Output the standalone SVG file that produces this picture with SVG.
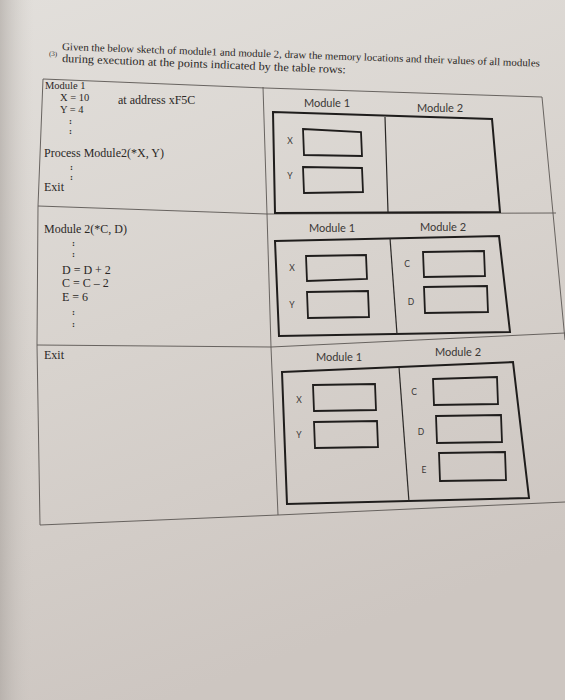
<svg xmlns="http://www.w3.org/2000/svg" width="565" height="700" viewBox="0 0 565 700">
<defs>
<linearGradient id="paper" x1="0" y1="0" x2="0.3" y2="1">
<stop offset="0" stop-color="#e2dfdb"/>
<stop offset="0.5" stop-color="#d8d3ce"/>
<stop offset="1" stop-color="#cdc6c1"/>
</linearGradient>
<linearGradient id="shade" x1="0" y1="0" x2="1" y2="0">
<stop offset="0" stop-color="#a9a39e" stop-opacity="0.6"/>
<stop offset="0.06" stop-color="#d0cbc6" stop-opacity="0"/>
</linearGradient>
<style>
.grid{fill:none;stroke:#5a5652;stroke-width:0.9}
.box{fill:none;stroke:#1f1d1c;stroke-width:2}
.div{fill:none;stroke:#2a2826;stroke-width:1.2}
.cell{fill:none;stroke:#1f1d1c;stroke-width:1.8}
.serif{font-family:"Liberation Serif","DejaVu Serif",serif;fill:#2b2826}
.sans{font-family:Lato,"Liberation Sans",sans-serif;fill:#3a3735}
.hdr{font-size:11px}
.lab{font-size:8.5px}
.code{font-size:12px}
.sm{font-size:10.5px}
.dot{font-size:9px;font-weight:bold}
</style>
</defs>
<rect width="565" height="700" fill="url(#paper)"/>
<rect width="565" height="700" fill="url(#shade)"/>

<g id="title" class="serif">
<text x="49" y="56" font-size="7" transform="rotate(2 49 56)">(3)</text>
<text x="62" y="50" font-size="10.5" transform="rotate(2 62 50)" textLength="478" lengthAdjust="spacingAndGlyphs">Given the below sketch of module1 and module 2, draw the memory locations and their values of all modules</text>
<text x="62" y="62" font-size="11.5" transform="rotate(2.3 62 62)" textLength="284" lengthAdjust="spacingAndGlyphs">during execution at the points indicated by the table rows:</text>
</g>

<g id="table">
<path class="grid" d="M43,79 L265,88 L542,97 L565,340"/>
<path class="grid" d="M43,79 L38,206 L37,345 L40,525"/>
<path class="grid" d="M38,206 L267,214 L556,213"/>
<path class="grid" d="M37,345 L271,347 L565,333"/>
<path class="grid" d="M40,525 L278,515 L565,502"/>
<path class="grid" d="M263,87 L267,214 L271,347 L278,515"/>
</g>

<g id="code1" class="serif code">
<text class="sm" x="45" y="89">Module 1</text>
<text class="sm" x="60" y="101">X = 10</text>
<text x="118" y="104">at address xF5C</text>
<text class="sm" x="60" y="113">Y = 4</text>
<text class="dot" x="69" y="124">:</text>
<text class="dot" x="69" y="134">:</text>
<text x="44" y="157">Process Module2(*X, Y)</text>
<text class="dot" x="70" y="170">:</text>
<text class="dot" x="70" y="180">:</text>
<text x="44" y="191">Exit</text>
</g>

<g id="code2" class="serif code">
<text x="44" y="233">Module 2(*C, D)</text>
<text class="dot" x="72" y="246">:</text>
<text class="dot" x="72" y="257">:</text>
<text x="62" y="274">D = D + 2</text>
<text x="62" y="287">C = C – 2</text>
<text x="62" y="301">E = 6</text>
<text class="dot" x="72" y="315">:</text>
<text class="dot" x="72" y="327">:</text>
<text x="44" y="359">Exit</text>
</g>

<g id="panel1">
<text class="sans hdr" x="327" y="107" text-anchor="middle">Module 1</text>
<text class="sans hdr" x="440" y="112" text-anchor="middle">Module 2</text>
<polygon class="box" points="273,112 492,119 500,212 275,213"/>
<path class="div" d="M385,117 L388,212"/>
<text class="sans lab" x="290" y="144" text-anchor="middle">X</text>
<polygon class="cell" points="303,129 361,132 362,156 304,155"/>
<text class="sans lab" x="290" y="179" text-anchor="middle">Y</text>
<polygon class="cell" points="303,167 362,168 363,192 304,193"/>
</g>

<g id="panel2">
<text class="sans hdr" x="332" y="232" text-anchor="middle">Module 1</text>
<text class="sans hdr" x="443" y="231" text-anchor="middle">Module 2</text>
<polygon class="box" points="275,241 499,236 510,332 279,336"/>
<path class="div" d="M390,238 L397,334"/>
<text class="sans lab" x="292" y="271" text-anchor="middle">X</text>
<polygon class="cell" points="306,256 366,255 367,279 307,281"/>
<text class="sans lab" x="292" y="308" text-anchor="middle">Y</text>
<polygon class="cell" points="307,292 368,291 369,317 308,318"/>
<text class="sans lab" x="407" y="267" text-anchor="middle">C</text>
<polygon class="cell" points="423,252 484,251 485,276 424,277"/>
<text class="sans lab" x="411" y="305" text-anchor="middle">D</text>
<polygon class="cell" points="424,287 487,286 488,312 425,313"/>
</g>

<g id="panel3">
<text class="sans hdr" x="339" y="361" text-anchor="middle">Module 1</text>
<text class="sans hdr" x="458" y="356" text-anchor="middle">Module 2</text>
<polygon class="box" points="282,372 513,362 529,498 287,504"/>
<path class="div" d="M399,367 L409,502"/>
<text class="sans lab" x="299" y="403" text-anchor="middle">X</text>
<polygon class="cell" points="313,385 375,384 376,410 314,411"/>
<text class="sans lab" x="299" y="438" text-anchor="middle">Y</text>
<polygon class="cell" points="314,422 377,421 378,447 315,448"/>
<text class="sans lab" x="414" y="395" text-anchor="middle">C</text>
<polygon class="cell" points="433,379 497,377 498,404 434,405"/>
<text class="sans lab" x="421" y="435" text-anchor="middle">D</text>
<polygon class="cell" points="436,416 501,415 502,442 437,443"/>
<text class="sans lab" x="424" y="473" text-anchor="middle">E</text>
<polygon class="cell" points="439,453 505,452 506,480 440,481"/>
</g>
</svg>
